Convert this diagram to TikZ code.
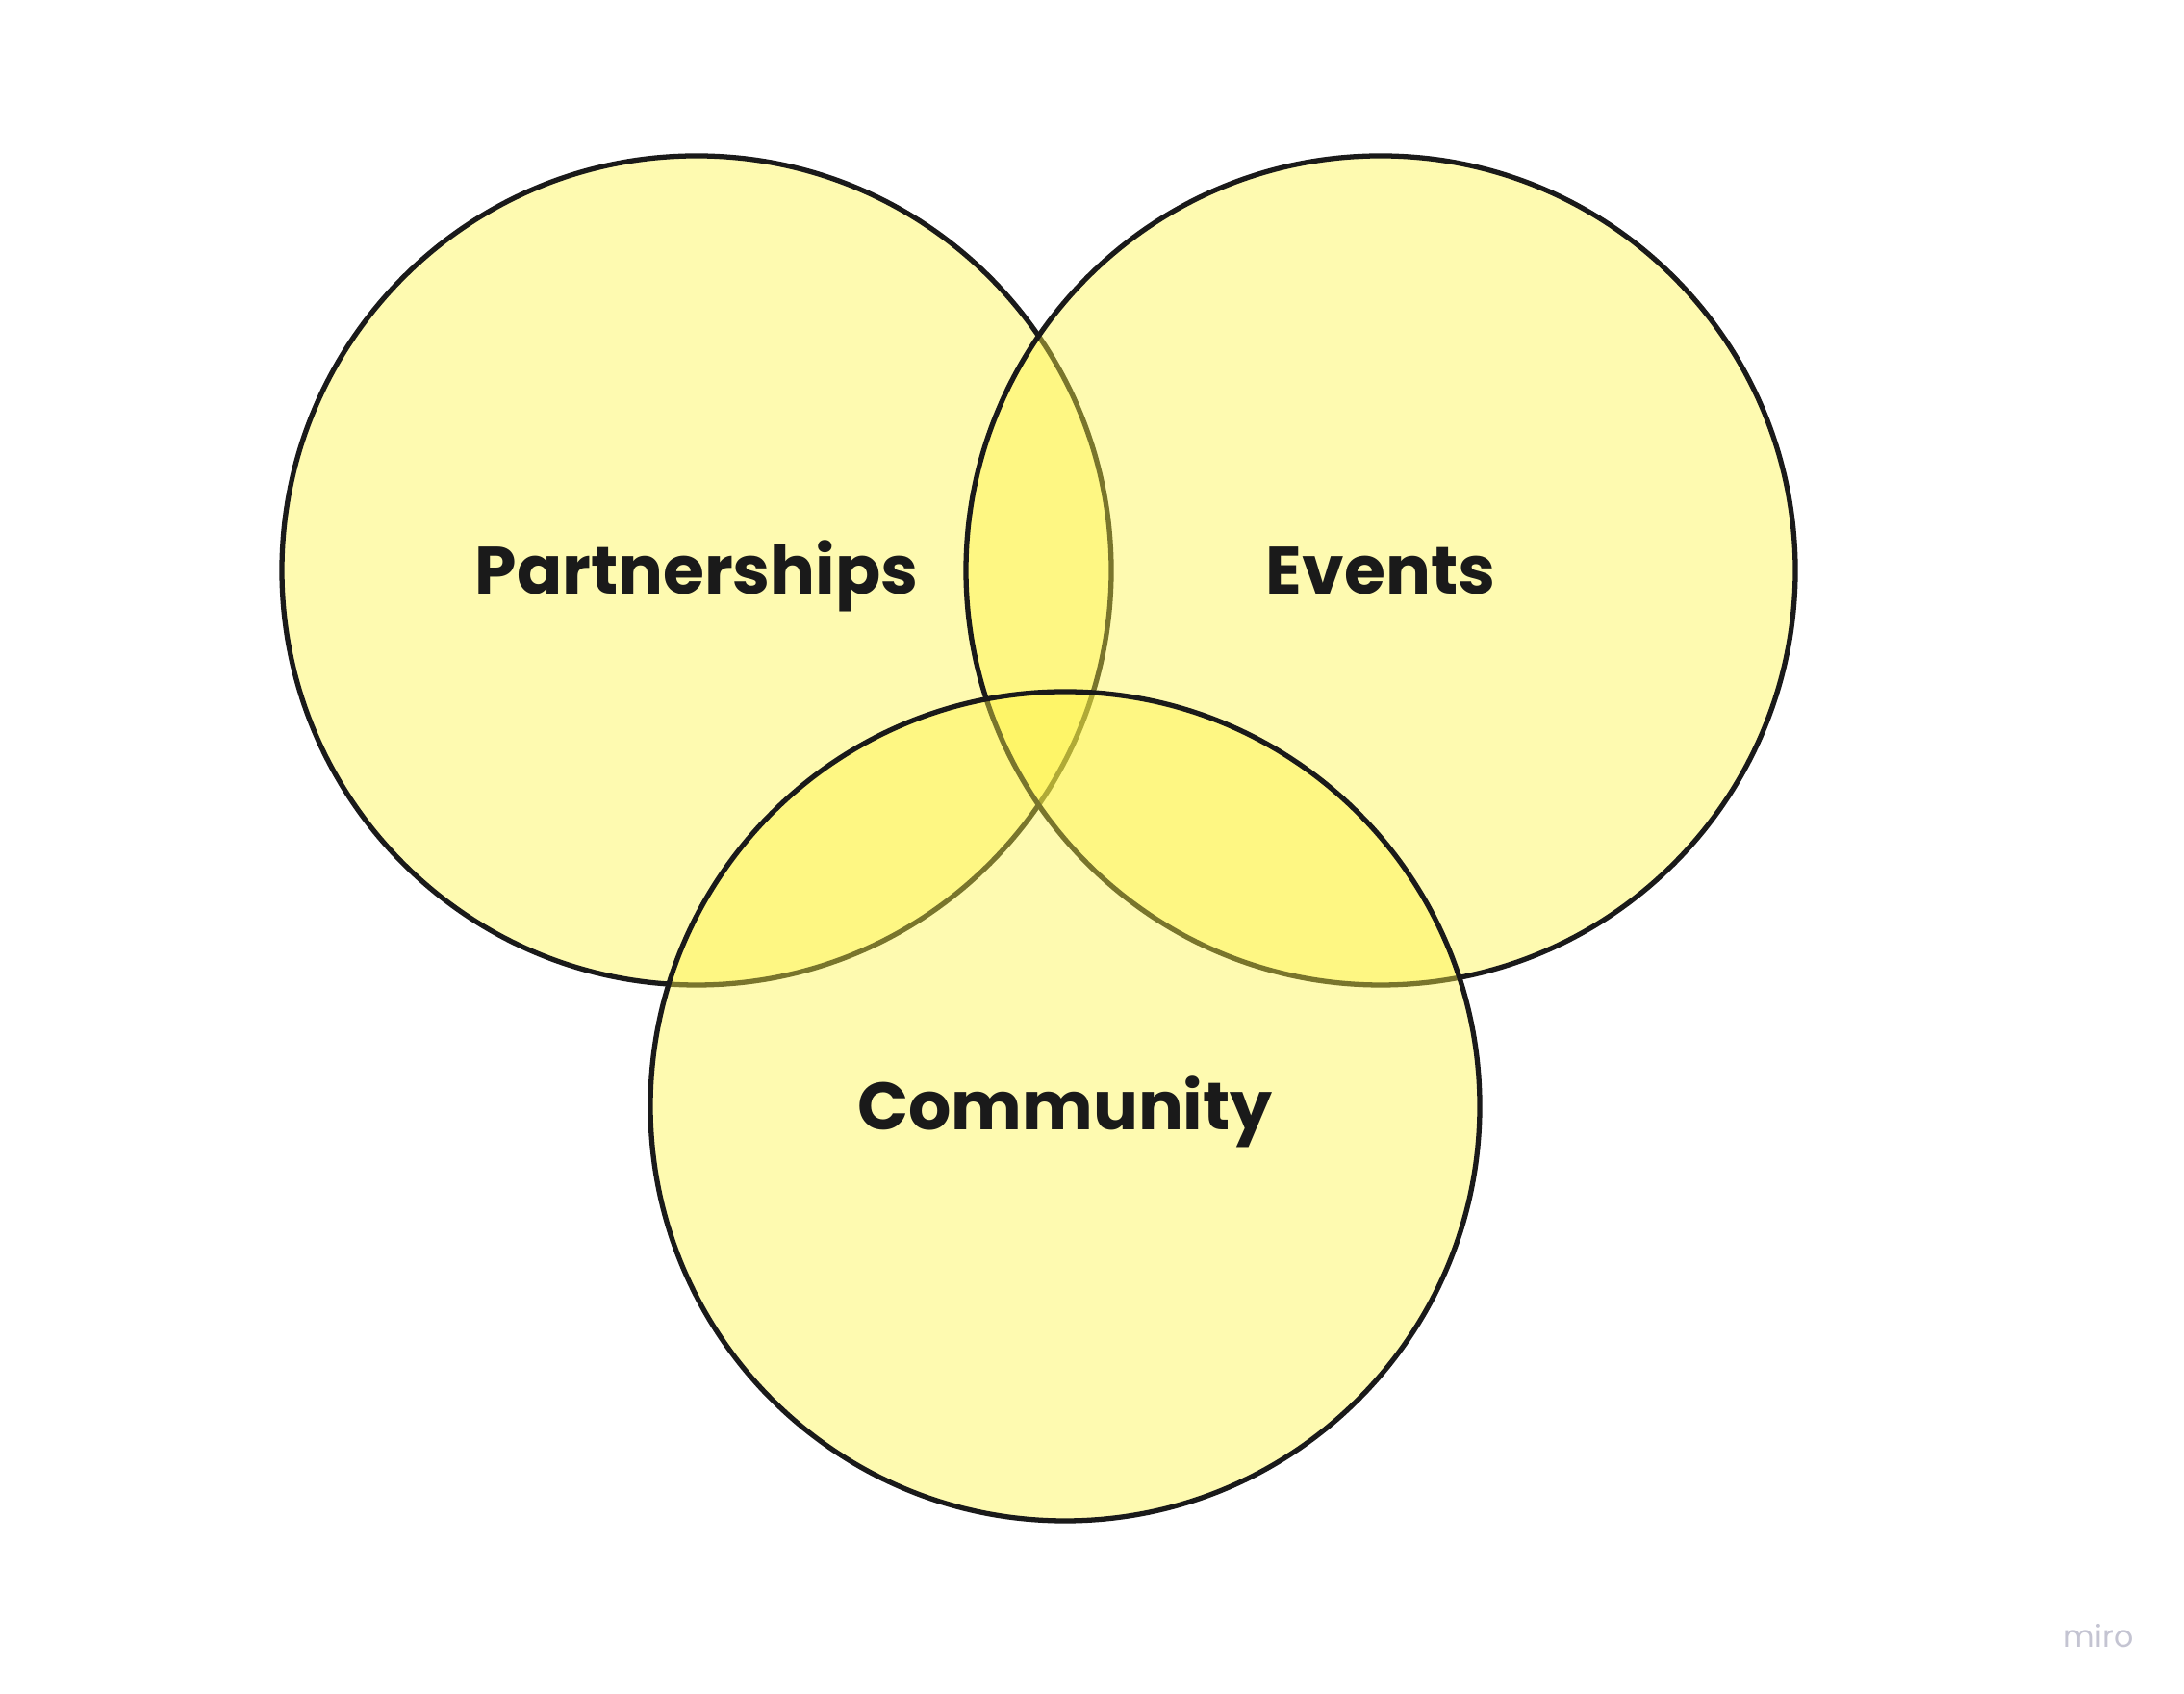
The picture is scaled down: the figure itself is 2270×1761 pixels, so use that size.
\documentclass[tikz,border=0pt]{standalone}
\usepackage{fontspec}
\setmainfont{Poppins}[BoldFont={* Bold}]
\definecolor{vennyellow}{HTML}{FEF445}
\definecolor{inkblack}{HTML}{1A1A1A}
\definecolor{logogray}{HTML}{C4C4D2}

\begin{document}
\begin{tikzpicture}[x=0.01cm, y=0.01cm,
    venn/.style = {fill=vennyellow, fill opacity=0.42, draw=inkblack, line width=1.5pt},
    label/.style = {text=inkblack, font=\fontsize{19.8}{24}\selectfont\bfseries, anchor=base}]
    \useasboundingbox (0, 0) rectangle (2270, 1761);
    \fill[white] (0, 0) rectangle (2270, 1761);
    \draw[venn] (724, 1168) circle (431);
    \draw[venn] (1435, 1168) circle (431);
    \draw[venn] (1107, 611) circle (431);
    \node[label] (partnerships) at (724, 1143) {Partnerships};
    \node[label] (events) at (1435, 1143) {Events};
    \node[label] (community) at (1107, 586) {Community};
    \node[text=logogray, font=\fontsize{9}{10}\selectfont] (logo) at (2181, 60) {miro};
  \end{tikzpicture}
\end{document}
